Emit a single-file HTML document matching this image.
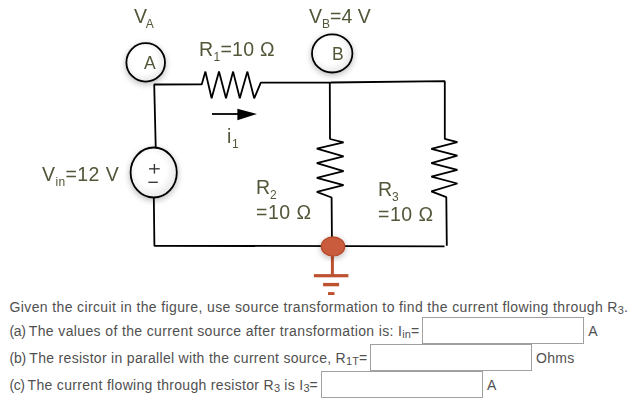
<!DOCTYPE html>
<html><head><meta charset="utf-8">
<style>
html,body{margin:0;padding:0;background:#fff;width:633px;height:411px;overflow:hidden;position:relative;font-family:"Liberation Sans",sans-serif;}
.l{position:absolute;white-space:pre;line-height:1;color:#505839;font-size:19.5px;will-change:transform;}
.l sub{font-size:12px;vertical-align:baseline;position:relative;top:5px;}
.p{position:absolute;white-space:pre;line-height:1;color:#505050;font-size:14px;left:9.6px;letter-spacing:0.34px;}
.p sub{font-size:11px;vertical-align:baseline;position:relative;top:2px;letter-spacing:0;}
.box{position:absolute;box-sizing:border-box;border:1px solid #a0a0a0;background:#fff;width:162px;height:27px;}
svg{position:absolute;left:0;top:0;}
</style></head><body>
<svg width="633" height="411" viewBox="0 0 633 411">
  <defs>
    <filter id="sh" x="-30%" y="-30%" width="160%" height="160%">
      <feGaussianBlur in="SourceAlpha" stdDeviation="3"/>
      <feOffset dx="-0.5" dy="2" result="b"/>
      <feComponentTransfer><feFuncA type="linear" slope="0.28"/></feComponentTransfer>
      <feMerge><feMergeNode/><feMergeNode in="SourceGraphic"/></feMerge>
    </filter>
    <radialGradient id="rg" cx="0.45" cy="0.45" r="0.55"><stop offset="0.6" stop-color="#fff"/><stop offset="1" stop-color="#e9e9e9"/></radialGradient>
  </defs>
  <g fill="none" stroke="#000" stroke-width="1.8" stroke-linejoin="bevel">
    <!-- top-left wire + R1 -->
    <polyline points="155.8,150 154.2,84.5 201.7,84.4 205.4,71.6 211.6,98.3 219,71.6 226,98.3 233.1,71.6 239.8,98.3 247.4,71.6 254.2,98.3 260.8,82.6 331,82.5 444.8,81.2 444.8,138.8 457.4,142.1 431.3,148.9 457.4,155.7 431.3,163.1 457.4,169.9 431.3,176.7 457.4,183.5 431.3,191.3 446.3,197.2 446.8,245.8"/>
    <polyline points="329.8,82.5 330,139 343.6,142.3 316.8,148.6 343.6,156.3 316.8,163.1 343.6,171.1 316.8,177.9 343.6,185.2 316.8,191.8 331.6,197.5 332,246.5"/>
    <polyline points="153.8,196 154.4,245.8 444.5,246.3"/>
  </g>
  <!-- circles -->
  <g filter="url(#sh)">
    <ellipse cx="145.7" cy="62.4" rx="19.3" ry="19.2" fill="url(#rg)" stroke="#000" stroke-width="1.8"/>
    <ellipse cx="332.2" cy="53.4" rx="20.2" ry="19.1" fill="url(#rg)" stroke="#000" stroke-width="1.8"/>
    <ellipse cx="153.7" cy="172.5" rx="23.1" ry="25" fill="url(#rg)" stroke="#000" stroke-width="1.8"/>
  </g>
  <!-- +/- -->
  <g stroke="#3a3a3a" stroke-width="1.4" fill="none">
    <line x1="149.1" y1="168.8" x2="159.7" y2="168.8"/>
    <line x1="154.4" y1="164" x2="154.4" y2="173.6"/>
    <line x1="148.4" y1="182.3" x2="157.8" y2="182.3"/>
  </g>
  <!-- arrow -->
  <line x1="212" y1="114" x2="240" y2="114" stroke="#000" stroke-width="1.8"/>
  <polygon points="237.4,108.7 257,114 237.4,120.3" fill="#000"/>
  <!-- ground -->
  <g fill="#bd5230">
    <rect x="330.9" y="254" width="3" height="22"/>
    <rect x="313.9" y="274.1" width="34.5" height="3.2"/>
    <rect x="323.1" y="282.9" width="16" height="3.4"/>
    <rect x="328" y="292.1" width="6.5" height="2.9"/>
  </g>
  <ellipse cx="333" cy="246.4" rx="11.7" ry="9.6" fill="#c95b3e" stroke="#b44b2a" stroke-width="1.2" filter="url(#sh)"/>
</svg>

<!-- circuit labels -->
<div class="l" style="left:133.6px;top:6.5px;"><span style="letter-spacing:-1.2px">V</span><sub>A</sub></div>
<div class="l" style="left:144px;top:55px;font-size:17.5px">A</div>
<div class="l" style="left:199px;top:39.5px;letter-spacing:0.3px">R<sub>1</sub>=10 Ω</div>
<div class="l" style="left:309px;top:6.7px;">V<sub>B</sub>=4 V</div>
<div class="l" style="left:331.8px;top:46px;font-size:17.5px">B</div>
<div class="l" style="left:227px;top:127.3px;">i<sub style="margin-left:0.6px">1</sub></div>
<div class="l" style="left:42px;top:165px;letter-spacing:0.4px">V<sub>in</sub>=12 V</div>
<div class="l" style="left:256px;top:178px;">R<sub>2</sub></div>
<div class="l" style="left:256px;top:202.8px;letter-spacing:0.5px">=10 Ω</div>
<div class="l" style="left:377.8px;top:180px;">R<sub>3</sub></div>
<div class="l" style="left:377.8px;top:204.8px;letter-spacing:0.5px">=10 Ω</div>

<!-- paragraph -->
<div class="p" style="top:300.3px;letter-spacing:0.37px">Given the circuit in the figure, use source transformation to find the current flowing through R<sub>3</sub>.</div>
<div class="p" style="top:324.2px;letter-spacing:0.37px"><span style="letter-spacing:-0.45px">(a) </span>The values of the current source after transformation is: I<sub>in</sub>=</div>
<div class="p" style="top:351.2px;letter-spacing:0.305px"><span style="letter-spacing:-0.31px">(b) </span>The resistor in parallel with the current source, R<sub>1T</sub>=</div>
<div class="p" style="top:378.4px;letter-spacing:0.32px"><span style="letter-spacing:-0.56px">(c) </span>The current flowing through resistor R<sub>3</sub> is I<sub>3</sub>=</div>
<div class="box" style="left:422px;top:317px;"></div>
<div class="box" style="left:370px;top:344px;"></div>
<div class="box" style="left:321px;top:371px;"></div>
<div class="p" style="left:588.3px;top:324.2px;letter-spacing:0">A</div>
<div class="p" style="left:536px;top:351.2px;letter-spacing:0.3px">Ohms</div>
<div class="p" style="left:487px;top:378.4px;letter-spacing:0">A</div>
</body></html>
